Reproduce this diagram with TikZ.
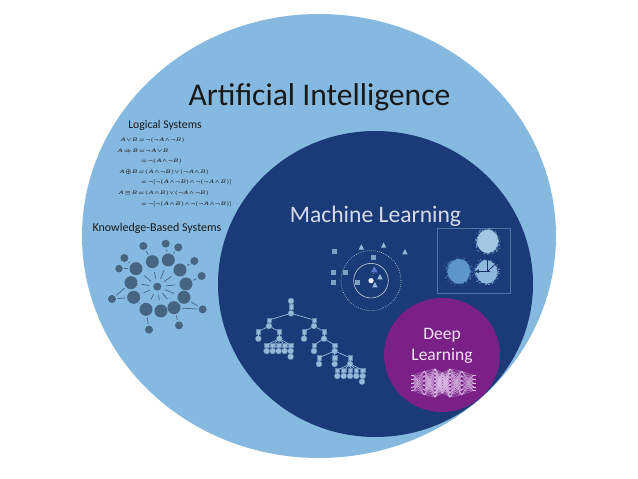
\documentclass[tikz,border=0pt]{standalone}
\usepackage{fontspec}
\setmainfont{Carlito}
\usetikzlibrary{arrows.meta}
\definecolor{aiblue}{HTML}{85B9E0}
\definecolor{mlblue}{HTML}{1B3B78}
\definecolor{dlpurple}{HTML}{7A2087}
\definecolor{mltext}{HTML}{D3DCE8}
\definecolor{dltext}{HTML}{F2E4F6}
\definecolor{kbnode}{HTML}{456582}
\definecolor{treec}{HTML}{96B9D8}
\definecolor{netc}{HTML}{DDBFE8}
\thickmuskip=2mu
\medmuskip=1mu
\thinmuskip=0.5mu
\tikzset{
  formula/.style={anchor=west,inner sep=0pt,font=\fontsize{5.5}{7}\selectfont\boldmath,text=black!85},
  kb/.style={circle,fill=kbnode,inner sep=0pt},
  kbedge/.style={kbnode,line width=0.7pt,shorten >=1.5pt,shorten <=1.5pt},
  tc/.style={circle,fill=treec,draw=treec!60!mlblue,line width=0.3pt,inner sep=0pt,minimum size=6pt},
  ts/.style={rectangle,fill=treec,draw=treec!60!mlblue,line width=0.3pt,inner sep=0pt,minimum size=4.2pt},
  tedge/.style={treec,line width=0.7pt},
  msq/.style={rectangle,fill=treec!80!mlblue,inner sep=0pt,minimum size=5pt},
  vec/.style={-{Latex[length=4pt,width=4.5pt]},line width=0.8pt,color=mlblue!85!black},
  netn/.style={circle,fill=netc,inner sep=0pt,minimum size=1.3pt},
  netl/.style={netc,line width=0.25pt,opacity=0.85},
  netstub/.style={netc,line width=0.6pt}
}
\begin{document}
\begin{tikzpicture}[x=1pt,y=-1pt]
\useasboundingbox (0,0) rectangle (638,479);
\fill[white] (0,0) rectangle (638,479);
\fill[aiblue] (319,236) ellipse [x radius=237pt,y radius=222pt];
\fill[mlblue] (375.5,284) ellipse [x radius=157.5pt,y radius=153pt];
\fill[dlpurple] (442,355) ellipse [x radius=58pt,y radius=57pt];

\node[font=\fontsize{31.6}{34}\selectfont,text=black!90,inner sep=0pt] (ai) at (319.5,97.5) {Artificial Intelligence};
\node[font=\fontsize{23.6}{26}\selectfont,text=mltext,inner sep=0pt] (ml) at (375.5,216) {Machine Learning};
\node[font=\fontsize{17.5}{20}\selectfont,text=dltext,inner sep=0pt] (deep) at (442,335) {Deep};
\node[font=\fontsize{17.5}{20}\selectfont,text=dltext,inner sep=0pt] (learn) at (442,356) {Learning};
\node[font=\fontsize{11.7}{13}\selectfont,text=black!90,inner sep=0pt] (ls) at (165,125) {Logical Systems};
\node[font=\fontsize{12}{13}\selectfont,text=black!90,inner sep=0pt] (kbs) at (157,228) {Knowledge-Based Systems};

\node[formula] (f1) at (120,140) {$A\vee B=\neg(\neg A\wedge\neg B)$};
\node[formula] (f2) at (117,150.5) {$A\Rightarrow B=\neg A\vee B$};
\node[formula] (f3) at (141,161.5) {$=\neg(A\wedge\neg B)$};
\node[formula] (f4) at (119,172) {$A\oplus B=(A\wedge\neg B)\vee(\neg A\wedge B)$};
\node[formula] (f5) at (141,182.5) {$=\neg[\neg(A\wedge\neg B)\wedge\neg(\neg A\wedge B)]$};
\node[formula] (f6) at (118,193) {$A\equiv B=(A\wedge B)\vee(\neg A\wedge\neg B)$};
\node[formula] (f7) at (141,204) {$=\neg[\neg(A\wedge B)\wedge\neg(\neg A\wedge\neg B)]$};

% Knowledge-based graph
\begin{scope}[shift={(100,230)},x=0.3333pt,y=-0.3333pt]
\foreach \n/\px/\py/\d in {
 c/172/170/8, a/130/48/8, b/197/41/8, d/235/52/8, e/73/84/8, f/57/116/7.5,
 g/157/95/13, h/205/90/13, i/108/116/13, j/283/93/8, k/240/120/13, l/305/138/8,
 m/93/158/13, n/258/162/13, o/36/207/8, p/101/202/13, q/252/202/13, r/222/233/13,
 s/138/238/13, t/183/243/13, u/308/238/8, v/147/299/8, w/237/286/8}
  \node[kb,minimum size=\d pt] (k\n) at (\px,\py) {};
\foreach \m in {g,h,i,k,m,n,p,q,r,s,t}
  \draw[kbedge,shorten >=4pt,shorten <=4pt] (kc) -- (k\m);
\foreach \s/\e in {a/g,b/h,d/h,e/i,f/i,j/k,l/n,o/m,o/p,v/s,w/r,u/q,u/r,p/s,n/q}
  \draw[kbedge] (k\s) -- (k\e);
\end{scope}

% kNN sketch
\begin{scope}[shift={(320,215)},x=0.3333pt,y=-0.3333pt]
\coordinate (mc) at (153,197);
\draw[white!75!mlblue,line width=0.6pt] (mc) circle (17.3pt);
\draw[white!75!mlblue,line width=0.6pt,dash pattern=on 0.7pt off 1.3pt] (mc) circle (30pt);
\foreach \n/\px/\py in {1/42/110,2/162/127,3/39/172,4/77/172,5/39/202,6/112/202}
  \node[msq] (sq\n) at (\px,\py) {};
\foreach \px/\py in {124/96,191/90,255/110,180/185,165/209}
  \fill[treec] (\px,\py-8) -- (\px+8,\py+8) -- (\px-8,\py+8) -- cycle;
\fill[blue!30!treec!80!mlblue] (163,153) -- (173,172) -- (153,172) -- cycle;
\fill[white!80!treec] (153,197) circle (2.6pt);
\draw[white,line width=0.5pt,dotted] (153,197) -- (163,172);

% cluster panel
\draw[treec!45!mlblue,line width=0.6pt] (353,39) rectangle (570,234);
\pgfmathsetseed{7}
\foreach \cx/\cy/\R/\col in {503/79/35/A3C6E2,417/169/37/5E95CB,500/171/35/8DB8DC}{
  \definecolor{blobc}{HTML}{\col}
  \fill[blobc] (\cx,\cy) ellipse [x radius={\R/3*0.9 pt},y radius={\R/3 pt}];
  \foreach \i in {1,...,260}{
    \pgfmathsetmacro{\ang}{360*rnd}
    \pgfmathsetmacro{\rad}{\R*(0.85+0.4*rnd*rnd)}
    \fill[blobc] ({\cx+\rad*cos(\ang)},{\cy+\rad*sin(\ang)}) circle (0.4pt);
  }
}
\coordinate (vo) at (503,169);
\coordinate (v1) at (503,121);
\coordinate (v2) at (535,139);
\coordinate (v3) at (465,169);
\coordinate (v4) at (510,169);
\draw[vec] (vo) -- (v1);
\draw[vec] (vo) -- (v2);
\draw[vec] (v4) -- (v3);
\end{scope}

% Decision trees
\begin{scope}[shift={(250,290)},x=0.3333pt,y=-0.3333pt]
\foreach \n/\px/\py in {a/123/33,b/123/70,c/57/108,d/192/108,e/25/146,f/88/146,
  g1/50/183,g2/68/183,g3/86/183,g4/104/183,g5/122/183,g6/122/200,
  h/162/146,i/222/146,j/192/183,k/254/183,l/207/222,m/254/222,n/300/222,
  o1/262/258,o2/281/258,o3/300/258,o4/319/258,o5/338/258,o6/336/275}
  \node[tc] (t\n) at (\px,\py) {};
\foreach \n/\px/\py in {sb/123/50,sc/57/90,sd/192/90,se/25/125,sf/88/125,
  q1/50/165,q2/68/165,q3/86/165,q4/104/165,q5/122/165,
  sh/162/125,si/222/125,sj/192/165,sk/254/165,sl/207/203,sm/254/203,sn/300/203,
  r1/262/240,r2/281/240,r3/300/240,r4/319/240,r5/338/240}
  \node[ts] (t\n) at (\px,\py) {};
\foreach \s/\e in {a/sb,sb/b,b/sc,b/sd,sc/c,sd/d,c/se,c/sf,se/e,sf/f,
  f/q1,f/q2,f/q3,f/q4,f/q5,q1/g1,q2/g2,q3/g3,q4/g4,q5/g5,g5/g6,
  d/sh,d/si,sh/h,si/i,i/sj,i/sk,sj/j,sk/k,k/sl,k/sm,k/sn,sl/l,sm/m,sn/n,
  n/r1,n/r2,n/r3,n/r4,n/r5,r1/o1,r2/o2,r3/o3,r4/o4,r5/o5,o5/o6}
  \draw[tedge] (t\s) -- (t\e);
\end{scope}

% Deep network
\begin{scope}[shift={(405,362)},x=0.3333pt,y=-0.3333pt]
\foreach \l/\px/\cnt/\sp in {1/25/5/46,2/58/6/70,3/90/8/84,4/112/8/60,5/135/8/84,6/170/6/70,7/205/5/46}{
  \foreach \i in {1,...,\cnt}{
    \pgfmathsetmacro{\py}{63+(\i-1)/(\cnt-1)*\sp-\sp/2}
    \node[netn] (n\l-\i) at (\px,\py) {};
  }
}
\foreach \a/\ca/\b/\cb in {1/5/2/6,2/6/3/8,3/8/4/8,4/8/5/8,5/8/6/6,6/6/7/5}{
  \foreach \i in {1,...,\ca}{
    \foreach \j in {1,...,\cb}{
      \draw[netl] (n\a-\i.center) -- (n\b-\j.center);
    }
  }
}
\foreach \i in {1,...,5}{
  \draw[netstub] (n1-\i.center) -- ++(-7,0);
  \draw[netstub] (n7-\i.center) -- ++(7,0);
}
\end{scope}
\end{tikzpicture}
\end{document}
